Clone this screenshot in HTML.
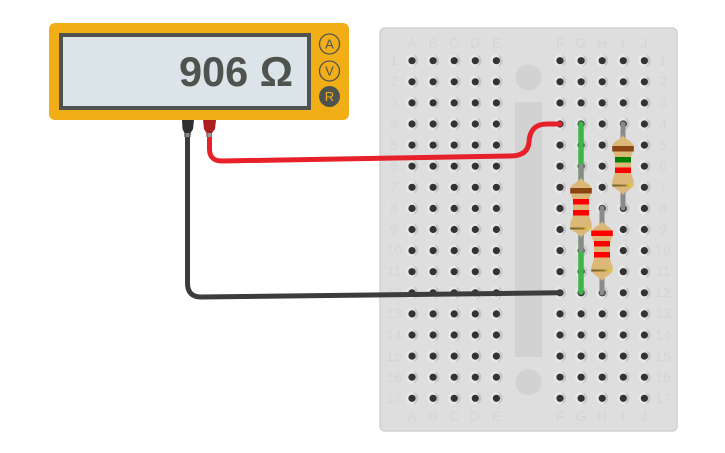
<!DOCTYPE html>
<html><head><meta charset="utf-8"><style>
html,body{margin:0;padding:0;background:#fff}
svg{display:block}
text{font-family:"Liberation Sans",sans-serif}
.l text{font-size:14px;fill:#d5d5d5;text-anchor:middle}
</style></head><body>
<svg width="725" height="453" viewBox="0 0 725 453" xmlns="http://www.w3.org/2000/svg">
<defs>
<g id="h"><circle r="6.200" fill="#e7e7e7"/><path d="M0-6.200A6.200 6.200 0 0 1 0 6.200A3.500 6.200 0 0 0 0-6.200Z" fill="#c6c6c6"/><circle r="3.600" fill="#333"/></g>
<g id="r5"><use href="#h" x="0"/><use href="#h" x="21.100"/><use href="#h" x="42.200"/><use href="#h" x="63.300"/><use href="#h" x="84.400"/></g>
<g id="rr"><use href="#r5" x="412"/><use href="#r5" x="560"/></g>
<g id="body">
<path d="M0 0C2 5 10.500 6 10.800 12C10.800 17 8 19 8 24V36C8 41 10.800 43 10.800 48C10.500 54 3 55 0 60C-3 55 -10.500 54 -10.800 48C-10.800 43 -8 41 -8 36V24C-8 19 -10.800 17 -10.800 12C-10.500 6 -2 5 0 0Z" fill="#dcb878"/>
</g>
<linearGradient id="gold" x1="0" x2="1" y1="0" y2="0"><stop offset="0" stop-color="#6e5c25"/><stop offset=".6" stop-color="#8f7a30"/><stop offset=".75" stop-color="#d8c040"/><stop offset="1" stop-color="#e0cc40"/></linearGradient>
</defs>

<!-- breadboard -->
<rect x="380" y="28" width="297" height="403" rx="5" fill="#dedede" stroke="#d2d2d2" stroke-width="1.500"/>
<circle cx="528.500" cy="77.500" r="13" fill="#d2d2d2"/>
<circle cx="528.500" cy="382" r="13" fill="#d2d2d2"/>
<rect x="515" y="102" width="27" height="255" fill="#d2d2d2"/>

<use href="#rr" y="60.700"/><use href="#rr" y="81.800"/><use href="#rr" y="102.900"/><use href="#rr" y="124"/><use href="#rr" y="145.100"/><use href="#rr" y="166.200"/><use href="#rr" y="187.300"/><use href="#rr" y="208.400"/><use href="#rr" y="229.500"/><use href="#rr" y="250.600"/><use href="#rr" y="271.700"/><use href="#rr" y="292.800"/><use href="#rr" y="313.900"/><use href="#rr" y="335"/><use href="#rr" y="356.100"/><use href="#rr" y="377.200"/><use href="#rr" y="398.300"/>

<g class="l">
<text x="412" y="48">A</text><text x="433" y="48">B</text><text x="454" y="48">C</text><text x="475" y="48">D</text><text x="496.500" y="48">E</text><text x="560" y="48">F</text><text x="581" y="48">G</text><text x="602" y="48">H</text><text x="623" y="48">I</text><text x="644" y="48">J</text>
<text x="412" y="421">A</text><text x="433" y="421">B</text><text x="454" y="421">C</text><text x="475" y="421">D</text><text x="496.500" y="421">E</text><text x="560" y="421">F</text><text x="581" y="421">G</text><text x="602" y="421">H</text><text x="623" y="421">I</text><text x="644" y="421">J</text>
<text x="394" y="65">1</text><text x="394" y="86">2</text><text x="394" y="107">3</text><text x="394" y="129">4</text><text x="394" y="150">5</text><text x="394" y="171">6</text><text x="394" y="192">7</text><text x="394" y="213">8</text><text x="394" y="234">9</text><text x="394" y="255">10</text><text x="394" y="276">11</text><text x="394" y="297">12</text><text x="394" y="318">13</text><text x="394" y="340">14</text><text x="394" y="361">15</text><text x="394" y="382">16</text><text x="394" y="403">17</text>
<text x="663" y="65">1</text><text x="663" y="86">2</text><text x="663" y="107">3</text><text x="663" y="129">4</text><text x="663" y="150">5</text><text x="663" y="171">6</text><text x="663" y="192">7</text><text x="663" y="213">8</text><text x="663" y="234">9</text><text x="663" y="255">10</text><text x="663" y="276">11</text><text x="663" y="297">12</text><text x="663" y="318">13</text><text x="663" y="340">14</text><text x="663" y="361">15</text><text x="663" y="382">16</text><text x="663" y="403">17</text>
</g>

<!-- green wire -->
<line x1="581" y1="124" x2="581" y2="292" stroke="#3cb54a" stroke-width="5.500" stroke-linecap="round"/>

<!-- resistor leads -->
<g stroke="#8a8a8a" stroke-width="5" stroke-linecap="round">
<line x1="581" y1="166" x2="581" y2="250"/>
<line x1="602" y1="208" x2="602" y2="293"/>
<line x1="623" y1="124" x2="623" y2="208"/>
</g>

<!-- resistor G -->
<g transform="translate(581 177.500)"><use href="#body"/>
<rect x="-10.800" y="10.500" width="21.600" height="5.500" fill="#8b4513"/>
<rect x="-8" y="21.500" width="16" height="5.500" fill="#f00"/>
<rect x="-8" y="32.500" width="16" height="5.500" fill="#f00"/>
<rect x="-10.800" y="50" width="21.600" height="2" fill="url(#gold)"/></g>
<!-- resistor H -->
<g transform="translate(602 221)"><use href="#body"/>
<rect x="-10.800" y="9.500" width="21.600" height="5.500" fill="#f00"/>
<rect x="-8" y="20" width="16" height="5.500" fill="#f00"/>
<rect x="-8" y="31" width="16" height="5.500" fill="#f00"/>
<rect x="-10.800" y="48.500" width="21.600" height="2" fill="url(#gold)"/></g>
<!-- resistor I -->
<g transform="translate(623 135)"><use href="#body"/>
<rect x="-10.800" y="11" width="21.600" height="5.500" fill="#8b4513"/>
<rect x="-8" y="22" width="16" height="5.500" fill="#008000"/>
<rect x="-8" y="32.500" width="16" height="5.500" fill="#f00"/>
<rect x="-10.800" y="49.500" width="21.600" height="2" fill="url(#gold)"/></g>

<!-- multimeter wires -->
<path d="M187.500 134V283Q187.500 297 201 297L560 292.800" fill="none" stroke="#3a3d3c" stroke-width="5" stroke-linecap="round"/>
<path d="M209.500 134V149Q209.500 161 222 161L510 156Q528 156 529 142Q530 124 547 124H560" fill="none" stroke="#e8202a" stroke-width="5" stroke-linecap="round"/>

<!-- multimeter -->
<rect x="49" y="23" width="300" height="97" rx="6" fill="#f2ae17"/>
<rect x="61" y="35" width="248" height="73" fill="#dbe5e9" stroke="#4f5350" stroke-width="4"/>
<text x="293" y="86" text-anchor="end" font-size="41.500" font-weight="bold" fill="#4f5350">906 Ω</text>
<circle cx="329.500" cy="44" r="10" fill="none" stroke="#4f5350" stroke-width="1.300"/>
<circle cx="329.500" cy="71" r="10" fill="none" stroke="#4f5350" stroke-width="1.300"/>
<circle cx="329.500" cy="96.500" r="10.500" fill="#4f5350"/>
<g font-size="13" text-anchor="middle">
<text x="329.500" y="48.500" fill="#4f5350">A</text>
<text x="329.500" y="75.500" fill="#4f5350">V</text>
<text x="329.500" y="101" fill="#f2ae17">R</text>
</g>

<!-- probes -->
<path d="M182 120H194L193 129L190.500 133V137H184.500V133L182.500 129Z" fill="#2e2e2e"/>
<rect x="185.500" y="133" width="4" height="4" fill="#8a8a8a"/>
<path d="M203 120H216L215 129L212 133V137H206.500V133L204 129Z" fill="#ac1f1f"/>
<rect x="207.500" y="133" width="4" height="4" fill="#999"/>
</svg>
</body></html>
